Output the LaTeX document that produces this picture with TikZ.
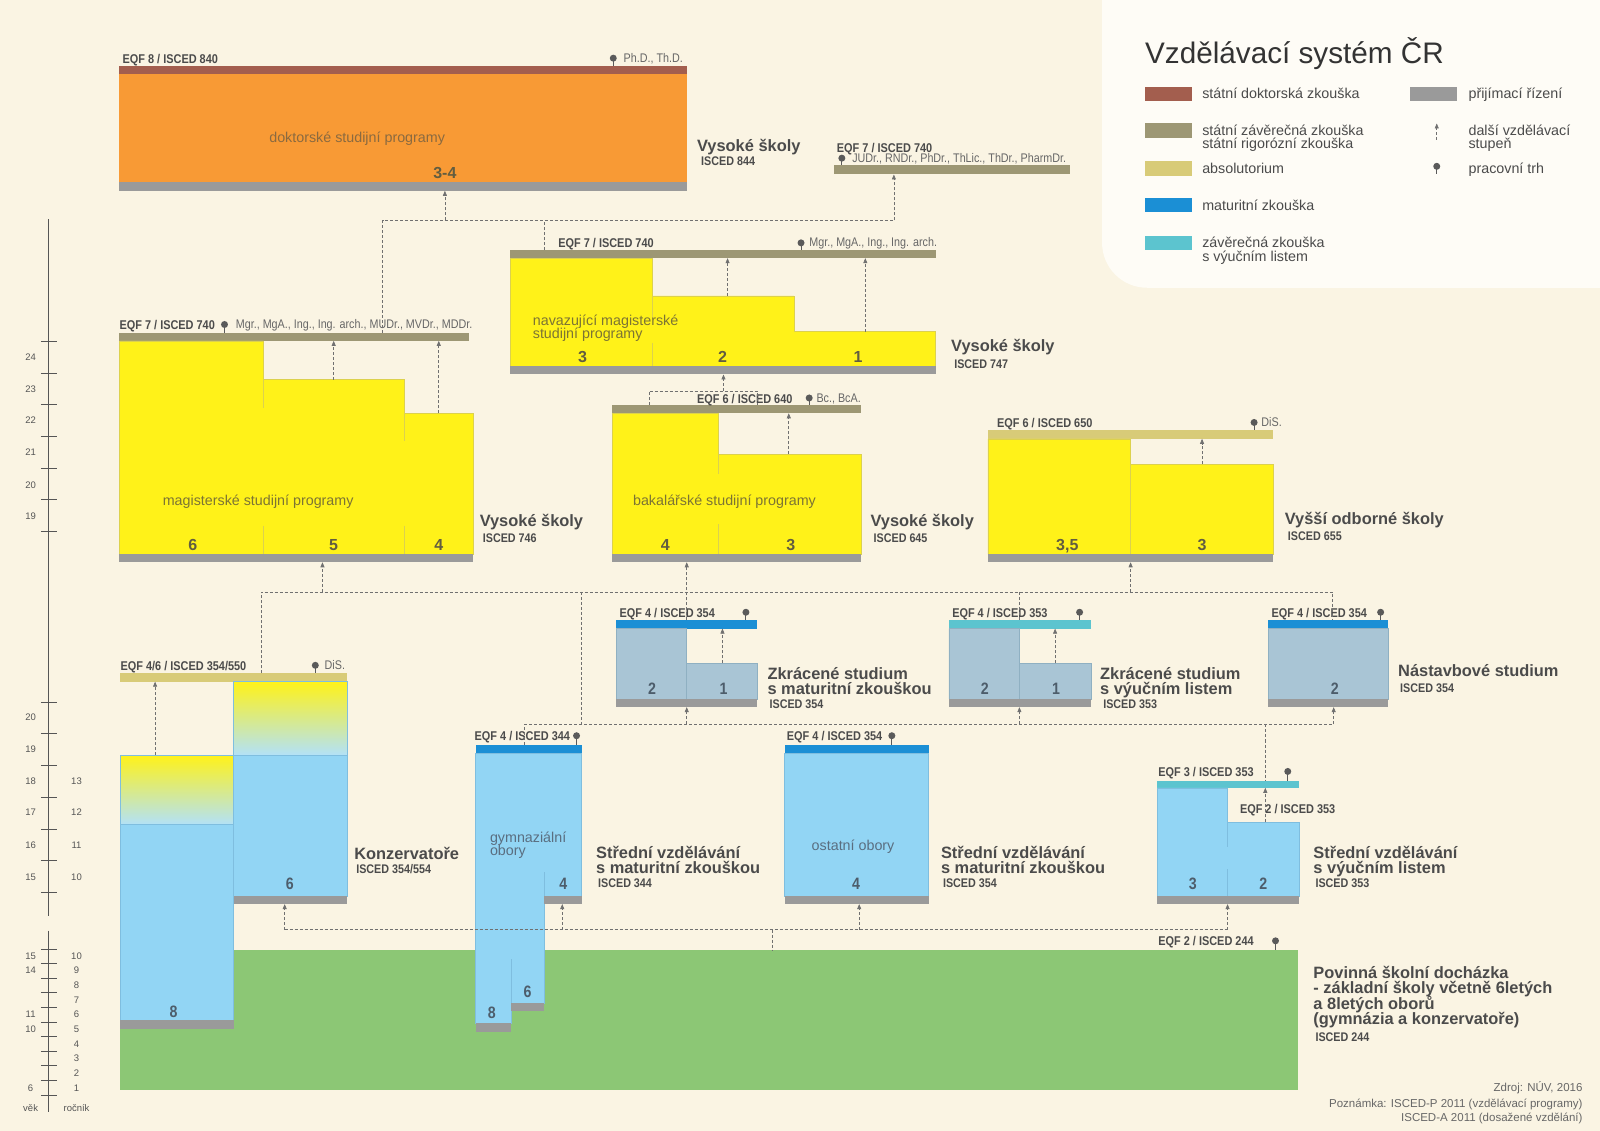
\documentclass[tikz,border=0pt]{standalone}
\usepackage{fontspec}
\setmainfont{Liberation Sans}
\newfontfamily\nar[FakeStretch=0.86]{Liberation Sans}
\usetikzlibrary{arrows.meta}
\definecolor{bg}{HTML}{FAF4E3}
\definecolor{panel}{HTML}{FEFCF6}
\definecolor{cbrown}{HTML}{A35E4E}
\definecolor{corange}{HTML}{F89A35}
\definecolor{cgray}{HTML}{9A9A9A}
\definecolor{colive}{HTML}{9D9774}
\definecolor{cyel}{HTML}{FFF219}
\definecolor{yedge}{HTML}{DCD14E}
\definecolor{ckhaki}{HTML}{D8CB78}
\definecolor{cblue}{HTML}{1B8FD5}
\definecolor{ccyan}{HTML}{5CC4CF}
\definecolor{clb}{HTML}{92D5F4}
\definecolor{lbedge}{HTML}{7FBEDF}
\definecolor{cgb}{HTML}{A9C5D5}
\definecolor{gbedge}{HTML}{8FB0C2}
\definecolor{cgreen}{HTML}{8CC775}
\definecolor{txt}{HTML}{4B4B4B}
\definecolor{txt2}{HTML}{676767}
\definecolor{ytxt}{HTML}{7C7434}
\definecolor{ynum}{HTML}{625D40}
\definecolor{bnum}{HTML}{4D5D6B}
\definecolor{btxt}{HTML}{5A6E80}
\definecolor{dtxt}{HTML}{8A6A40}
\definecolor{dashc}{HTML}{707070}
\definecolor{pinc}{HTML}{5A5A5A}
\definecolor{axc}{HTML}{555555}
\newcommand\mypin[3]{\draw[pinc,line width=0.9pt] (#1,#2) -- (#1,#3); \fill[pinc] (#1,#2) circle[radius=3.5pt];}
\newcommand\uparr[4]{\coordinate (#1s) at (#2,#3); \coordinate (#1e) at (#2,#4); \draw[dl,arr] (#1s) -- (#1e);}
\begin{document}
\begin{tikzpicture}[x=1.0204pt,y=-1.0204pt,
 eqf/.style={font=\nar\bfseries\fontsize{12.7}{12}\selectfont,text=txt,anchor=base west,inner sep=0},
 deg/.style={font=\nar\fontsize{12.5}{12}\selectfont,text=txt2,anchor=base west,inner sep=0},
 head/.style={font=\bfseries\fontsize{16.4}{16}\selectfont,text=txt,anchor=base west,inner sep=0},
 isced/.style={font=\nar\bfseries\fontsize{12.5}{12}\selectfont,text=txt,anchor=base west,inner sep=0},
 num/.style={font=\bfseries\fontsize{16}{16}\selectfont,text=ynum,anchor=base,inner sep=0},
 bnumst/.style={font=\nar\bfseries\fontsize{16.5}{16}\selectfont,text=bnum,anchor=base,inner sep=0},
 prog/.style={font=\fontsize{14.3}{14}\selectfont,text=ytxt,anchor=base,inner sep=0},
 leg/.style={font=\fontsize{14.3}{14}\selectfont,text=txt,anchor=base west,inner sep=0},
 axl/.style={font=\fontsize{9.5}{10}\selectfont,text=axc,anchor=base,inner sep=0},
 foot/.style={font=\fontsize{11.5}{11}\selectfont,text=txt2,anchor=base east,inner sep=0},
 dl/.style={draw=dashc,line width=0.6pt,dash pattern=on 3pt off 2pt},
 arr/.style={-{Triangle[length=5pt,width=4pt]}},
 ybox/.style={fill=cyel,draw=yedge,line width=0.5pt},
 lbbox/.style={fill=clb,draw=lbedge,line width=0.5pt},
 gbbox/.style={fill=cgb,draw=gbedge,line width=0.5pt},
 ydiv/.style={draw=yedge,line width=0.7pt},
 bdiv/.style={draw=lbedge,line width=0.7pt}
]
\useasboundingbox (0,0) rectangle (1568,1108);
\fill[bg] (0,0) rectangle (1568,1108);
\fill[panel,rounded corners=45pt] (1080,-60) -- (1080,282) -- (1640,282) -- (1640,-60) -- cycle;

% ---------- legend ----------
\node[font=\fontsize{29.7}{29}\selectfont,text=black!80,anchor=base west,inner sep=0] (title) at (1122,62) {Vzdělávací systém ČR};
\fill[cbrown] (1122,85) rectangle (1168,99);
\fill[colive] (1122,121) rectangle (1168,135);
\fill[ckhaki] (1122,158) rectangle (1168,172);
\fill[cblue] (1122,194) rectangle (1168,208);
\fill[ccyan] (1122,231) rectangle (1168,245);
\fill[cgray] (1382,85) rectangle (1428,99);
\node[leg] (l1) at (1178,97) {státní doktorská zkouška};
\node[leg] (l2) at (1178,133) {státní závěrečná zkouška};
\node[leg] (l3) at (1178,146) {státní rigorózní zkouška};
\node[leg] (l4) at (1178,170) {absolutorium};
\node[leg] (l5) at (1178,206) {maturitní zkouška};
\node[leg] (l6) at (1178,243) {závěrečná zkouška};
\node[leg] (l7) at (1178,256) {s výučním listem};
\node[leg] (l8) at (1439,97) {přijímací řízení};
\node[leg] (l9) at (1439,133) {další vzdělávací};
\node[leg] (l10) at (1439,146) {stupeň};
\node[leg] (l11) at (1439,170) {pracovní trh};
\uparr{lga}{1408}{137}{121}
\mypin{1408}{163}{171}

% ---------- axis ----------
\draw[axc,line width=0.8pt] (47,215) -- (47,898);
\draw[axc,line width=0.8pt] (47,912) -- (47,1090);
\foreach \i in {0,...,6} {\draw[axc,line width=0.6pt] (40,{334.5+31*\i}) -- (56,{334.5+31*\i});}
\foreach \i in {0,...,6} {\draw[axc,line width=0.6pt] (40,{688+31.1*\i}) -- (56,{688+31.1*\i});}
\foreach \i in {0,...,10} {\draw[axc,line width=0.6pt] (40,{930+14.3*\i}) -- (56,{930+14.3*\i});}
\foreach \v/\y [count=\k] in {24/350,23/381,22/412,21/443,20/475,19/506,20/703,19/734,18/765,17/796,16/828,15/859,15/937,14/951,11/994,10/1008,6/1066}
 {\node[axl] (av\k) at (30,\y+3.5) {\v};}
\foreach \v/\y [count=\k] in {13/765,12/796,11/828,10/859,10/937,9/951,8/965,7/980,6/994,5/1008,4/1023,3/1037,2/1051,1/1066}
 {\node[axl] (ar\k) at (75,\y+3.5) {\v};}
\node[axl] (vek) at (30,1089) {věk};
\node[axl] (rocnik) at (75,1089) {ročník};

% ---------- green: compulsory ----------
\fill[cgreen] (118,931) rectangle (1272,1068);
\node[eqf] (g_eqf) at (1135,927) {EQF 2 / ISCED 244};
\mypin{1250}{922}{931}
\node[head] (g_h1) at (1287,959) {Povinná školní docházka};
\node[head] (g_h2) at (1287,974) {- základní školy včetně 6letých};
\node[head] (g_h3) at (1287,989) {a 8letých oborů};
\node[head] (g_h4) at (1287,1004) {(gymnázia a konzervatoře)};
\node[isced] (g_is) at (1289,1021) {ISCED 244};

% ---------- doctoral ----------
\fill[cbrown] (117,65) rectangle (673,73);
\fill[corange] (117,73) rectangle (673,178);
\fill[cgray] (117,178) rectangle (673,187);
\coordinate (docB) at (436,187);
\node[eqf] (d_eqf) at (120,62) {EQF 8 / ISCED 840};
\mypin{601}{57}{65}
\node[deg] (d_deg) at (611,61) {Ph.D., Th.D.};
\node[prog,text=dtxt] (d_prog) at (350,140) {doktorské studijní programy};
\node[num,text=ynum] (d_num) at (436,175) {3-4};
\node[head] (d_h) at (683,148) {Vysoké školy};
\node[isced] (d_is) at (687,162) {ISCED 844};

% ---------- rigorózní ----------
\fill[colive] (817,162) rectangle (1049,171);
\coordinate (rigB) at (876,171);
\node[eqf] (r_eqf) at (820,149) {EQF 7 / ISCED 740};
\mypin{825}{155}{162}
\node[deg] (r_deg) at (835,159) {JUDr., RNDr., PhDr., ThLic., ThDr., PharmDr.};

% ---------- navazující ----------
\fill[colive] (500,245) rectangle (917,253);
\draw[ybox] (500,253) -- (639,253) -- (639,290) -- (778,290) -- (778,325) -- (917,325) -- (917,359) -- (500,359) -- cycle;
\draw[ydiv] (639,290) -- (639,313) (639,336) -- (639,359);
\fill[cgray] (500,359) rectangle (917,367);
\node[eqf] (n_eqf) at (547,243) {EQF 7 / ISCED 740};
\mypin{785}{238}{245}
\node[deg] (n_deg) at (793,242) {Mgr., MgA., Ing., Ing. arch.};
\node[prog,anchor=base west] (n_p1) at (522,319) {navazující magisterské};
\node[prog,anchor=base west] (n_p2) at (522,332) {studijní programy};
\node[num] (n_3) at (571,355) {3};
\node[num] (n_2) at (708,355) {2};
\node[num] (n_1) at (841,355) {1};
\node[head] (n_h) at (932,344) {Vysoké školy};
\node[isced] (n_is) at (935,361) {ISCED 747};
\uparr{na2}{713}{290}{253}
\uparr{na1}{848}{325}{253}

% ---------- magisterské ----------
\fill[colive] (117,326) rectangle (460,334);
\draw[ybox] (117,334) -- (258,334) -- (258,372) -- (396,372) -- (396,405) -- (464,405) -- (464,543) -- (117,543) -- cycle;
\draw[ydiv] (258,372) -- (258,400) (258,515) -- (258,543) (396,405) -- (396,432) (396,515) -- (396,543);
\fill[cgray] (117,543) rectangle (464,551);
\node[eqf] (m_eqf) at (117,323) {EQF 7 / ISCED 740};
\mypin{220}{318}{326}
\node[deg] (m_deg) at (231,322) {Mgr., MgA., Ing., Ing. arch., MUDr., MVDr., MDDr.};
\node[prog] (m_prog) at (253,495) {magisterské studijní programy};
\node[num] (m_6) at (189,539) {6};
\node[num] (m_5) at (327,539) {5};
\node[num] (m_4) at (430,539) {4};
\node[head] (m_h) at (470,516) {Vysoké školy};
\node[isced] (m_is) at (473,532) {ISCED 746};
\uparr{ma5}{327}{372}{334}
\uparr{ma4}{430}{405}{334}

% top network to doctoral and rigorous
\coordinate (t1) at (375,326); \coordinate (t2) at (375,216); \coordinate (t3) at (876,216);
\coordinate (t4) at (533,245); \coordinate (t5) at (533,216); \coordinate (t6) at (436,216);
\draw[dl] (t1) -- (t2) -- (t3);
\draw[dl] (t4) -- (t5);
\draw[dl,arr] (t6) -- (docB);
\draw[dl,arr] (t3) -- (rigB);

% ---------- bakalářské ----------
\fill[colive] (600,397) rectangle (844,405);
\draw[ybox] (600,405) -- (704,405) -- (704,445) -- (844,445) -- (844,543) -- (600,543) -- cycle;
\draw[ydiv] (704,445) -- (704,465) (704,514) -- (704,543);
\fill[cgray] (600,543) rectangle (844,551);
\node[eqf] (b_eqf) at (683,395) {EQF 6 / ISCED 640};
\mypin{793}{390}{397}
\node[deg] (b_deg) at (800,394) {Bc., BcA.};
\node[prog] (b_prog) at (710,495) {bakalářské studijní programy};
\node[num] (b_4) at (652,539) {4};
\node[num] (b_3) at (775,539) {3};
\node[head] (b_h) at (853,516) {Vysoké školy};
\node[isced] (b_is) at (856,532) {ISCED 645};
\uparr{ba3}{773}{445}{405}
\coordinate (bf1) at (636,397); \coordinate (bf2) at (636,383); \coordinate (bf3) at (742,383); \coordinate (bf4) at (742,397);
\draw[dl] (bf1) -- (bf2) -- (bf3) -- (bf4);
\uparr{bnav}{709}{383}{367}

% ---------- VOŠ ----------
\fill[ckhaki] (968,421) rectangle (1248,430);
\draw[ybox] (968,430) -- (1108,430) -- (1108,455) -- (1248,455) -- (1248,543) -- (968,543) -- cycle;
\draw[ydiv] (1108,455) -- (1108,543);
\fill[cgray] (968,543) rectangle (1248,551);
\node[eqf] (v_eqf) at (977,419) {EQF 6 / ISCED 650};
\mypin{1229}{414}{421}
\node[deg] (v_deg) at (1236,418) {DiS.};
\node[num] (v_35) at (1046,539) {3,5};
\node[num] (v_3) at (1178,539) {3};
\node[head] (v_h) at (1259,514) {Vyšší odborné školy};
\node[isced] (v_is) at (1262,530) {ISCED 655};
\uparr{va3}{1178}{455}{430}

% ---------- zkrácené s maturitou ----------
\fill[cblue] (604,608) rectangle (742,616);
\draw[gbbox] (604,616) -- (673,616) -- (673,650) -- (742,650) -- (742,685) -- (604,685) -- cycle;
\draw[draw=gbedge,line width=0.7pt] (673,650) -- (673,685);
\fill[cgray] (604,685) rectangle (742,693);
\node[eqf] (zm_eqf) at (607,605) {EQF 4 / ISCED 354};
\mypin{731}{600}{608}
\node[bnumst] (zm_2) at (639,681) {2};
\node[bnumst] (zm_1) at (709,681) {1};
\node[head] (zm_h1) at (752,666) {Zkrácené studium};
\node[head] (zm_h2) at (752,681) {s maturitní zkouškou};
\node[isced] (zm_is) at (754,694) {ISCED 354};
\uparr{zma}{708}{650}{616}

% ---------- zkrácené s VL ----------
\fill[ccyan] (930,608) rectangle (1069,616);
\draw[gbbox] (930,616) -- (999,616) -- (999,650) -- (1069,650) -- (1069,685) -- (930,685) -- cycle;
\draw[draw=gbedge,line width=0.7pt] (999,650) -- (999,685);
\fill[cgray] (930,685) rectangle (1069,693);
\node[eqf] (zv_eqf) at (933,605) {EQF 4 / ISCED 353};
\mypin{1058}{600}{608}
\node[bnumst] (zv_2) at (965,681) {2};
\node[bnumst] (zv_1) at (1035,681) {1};
\node[head] (zv_h1) at (1078,666) {Zkrácené studium};
\node[head] (zv_h2) at (1078,681) {s výučním listem};
\node[isced] (zv_is) at (1081,694) {ISCED 353};
\uparr{zva}{1034}{650}{616}

% ---------- nástavbové ----------
\fill[cblue] (1243,608) rectangle (1360,616);
\draw[gbbox] (1243,616) rectangle (1360,685);
\fill[cgray] (1243,685) rectangle (1360,693);
\node[eqf] (ns_eqf) at (1246,605) {EQF 4 / ISCED 354};
\mypin{1353}{600}{608}
\node[bnumst] (ns_2) at (1308,681) {2};
\node[head] (ns_h) at (1370,663) {Nástavbové studium};
\node[isced] (ns_is) at (1372,679) {ISCED 354};

% ---------- konzervatoře ----------
\fill[ckhaki] (118,660) rectangle (340,668);
\shade[top color=cyel,bottom color=clb!70!white] (118,740) rectangle (229,808);
\fill[clb] (118,808) rectangle (229,1000);
\shade[top color=cyel,bottom color=clb!70!white] (229,668) rectangle (340,740);
\fill[clb] (229,740) rectangle (340,878);
\draw[draw=lbedge,line width=0.5pt] (118,740) rectangle (229,1000) (229,668) rectangle (340,878);
\draw[draw=lbedge,line width=0.6pt] (118,808) -- (229,808) (229,740) -- (340,740);
\fill[cgray] (118,1000) rectangle (229,1008);
\fill[cgray] (229,878) rectangle (340,886);
\node[eqf] (k_eqf) at (118,657) {EQF 4/6 / ISCED 354/550};
\mypin{309}{652}{660}
\node[deg] (k_deg) at (318,656) {DiS.};
\node[bnumst] (k_8) at (170,997) {8};
\node[bnumst] (k_6) at (284,872) {6};
\node[head] (k_h) at (347,842) {Konzervatoře};
\node[isced] (k_is) at (349,856) {ISCED 354/554};
\uparr{ka}{152}{740}{668}

% ---------- gymnázium ----------
\fill[cblue] (466,730) rectangle (570,738);
\draw[lbbox] (466,738) -- (570,738) -- (570,878) -- (533,878) -- (533,983) -- (501,983) -- (501,1003) -- (466,1003) -- cycle;
\draw[bdiv] (533,855) -- (533,878) (501,940) -- (501,983);
\fill[cgray] (533,878) rectangle (570,886);
\fill[cgray] (501,983) rectangle (533,991);
\fill[cgray] (466,1003) rectangle (501,1011);
\node[eqf] (gy_eqf) at (465,726) {EQF 4 / ISCED 344};
\mypin{565}{721}{730}
\node[prog,anchor=base west,text=btxt] (gy_p1) at (480,826) {gymnaziální};
\node[prog,anchor=base west,text=btxt] (gy_p2) at (480,838) {obory};
\node[bnumst] (gy_4) at (552,872) {4};
\node[bnumst] (gy_6) at (517,978) {6};
\node[bnumst] (gy_8) at (482,998) {8};
\node[head] (gy_h1) at (584,841) {Střední vzdělávání};
\node[head] (gy_h2) at (584,856) {s maturitní zkouškou};
\node[isced] (gy_is) at (586,870) {ISCED 344};

% ---------- ostatní obory ----------
\fill[cblue] (769,730) rectangle (910,738);
\draw[lbbox] (769,738) rectangle (910,878);
\fill[cgray] (769,878) rectangle (910,886);
\node[eqf] (o_eqf) at (771,726) {EQF 4 / ISCED 354};
\mypin{874}{721}{730}
\node[prog,text=btxt] (o_prog) at (836,833) {ostatní obory};
\node[bnumst] (o_4) at (839,872) {4};
\node[head] (o_h1) at (922,841) {Střední vzdělávání};
\node[head] (o_h2) at (922,856) {s maturitní zkouškou};
\node[isced] (o_is) at (924,870) {ISCED 354};

% ---------- střední s VL ----------
\fill[ccyan] (1134,765) rectangle (1273,772);
\draw[lbbox] (1134,772) -- (1203,772) -- (1203,806) -- (1273,806) -- (1273,878) -- (1134,878) -- cycle;
\draw[bdiv] (1203,806) -- (1203,830) (1203,852) -- (1203,878);
\fill[cgray] (1134,878) rectangle (1273,886);
\node[eqf] (s_eqf) at (1135,761) {EQF 3 / ISCED 353};
\mypin{1262}{756}{765}
\node[eqf] (s_eqf2) at (1215,797) {EQF 2 / ISCED 353};
\node[bnumst] (s_3) at (1169,872) {3};
\node[bnumst] (s_2) at (1238,872) {2};
\node[head] (s_h1) at (1287,841) {Střední vzdělávání};
\node[head] (s_h2) at (1287,856) {s výučním listem};
\node[isced] (s_is) at (1289,870) {ISCED 353};
\uparr{sa2}{1240}{806}{772}

% ---------- network y=580 ----------
\coordinate (u1) at (256,580); \coordinate (u2) at (1306,580);
\coordinate (u3) at (256,660); \coordinate (u4) at (999,608); \coordinate (u5) at (1306,608);
\coordinate (u6) at (570,580); \coordinate (u7) at (570,710); \coordinate (u8) at (999,580);
\draw[dl] (u3) -- (u1) -- (u2) -- (u5);
\draw[dl] (u8) -- (u4);
\draw[dl] (u6) -- (u7);
\uparr{um}{316}{580}{551}
\uparr{ub}{673}{608}{551}
\uparr{uv}{1108}{580}{551}

% ---------- network y=710 ----------
\coordinate (w1) at (514,730); \coordinate (w2) at (514,710); \coordinate (w3) at (1307,710);
\coordinate (w4) at (1240,710); \coordinate (w5) at (1240,765);
\draw[dl] (w1) -- (w2) -- (w3);
\draw[dl] (w4) -- (w5);
\uparr{wz1}{673}{710}{693}
\uparr{wz2}{999}{710}{693}
\uparr{wz3}{1307}{710}{693}

% ---------- network y=911 ----------
\coordinate (x1) at (279,911); \coordinate (x2) at (1203,911);
\coordinate (x3) at (757,911); \coordinate (x4) at (757,931);
\draw[dl] (x1) -- (x2);
\draw[dl] (x3) -- (x4);
\uparr{xk}{279}{911}{886}
\uparr{xg}{551}{911}{886}
\uparr{xo}{842}{911}{886}
\uparr{xs}{1203}{911}{886}

% ---------- footer ----------
\node[foot] (f1) at (1551,1070) {Zdroj: NÚV, 2016};
\node[foot] (f2) at (1551,1085) {Poznámka: ISCED-P 2011 (vzdělávací programy)};
\node[foot] (f3) at (1551,1099) {ISCED-A 2011 (dosažené vzdělání)};
\end{tikzpicture}
\end{document}
